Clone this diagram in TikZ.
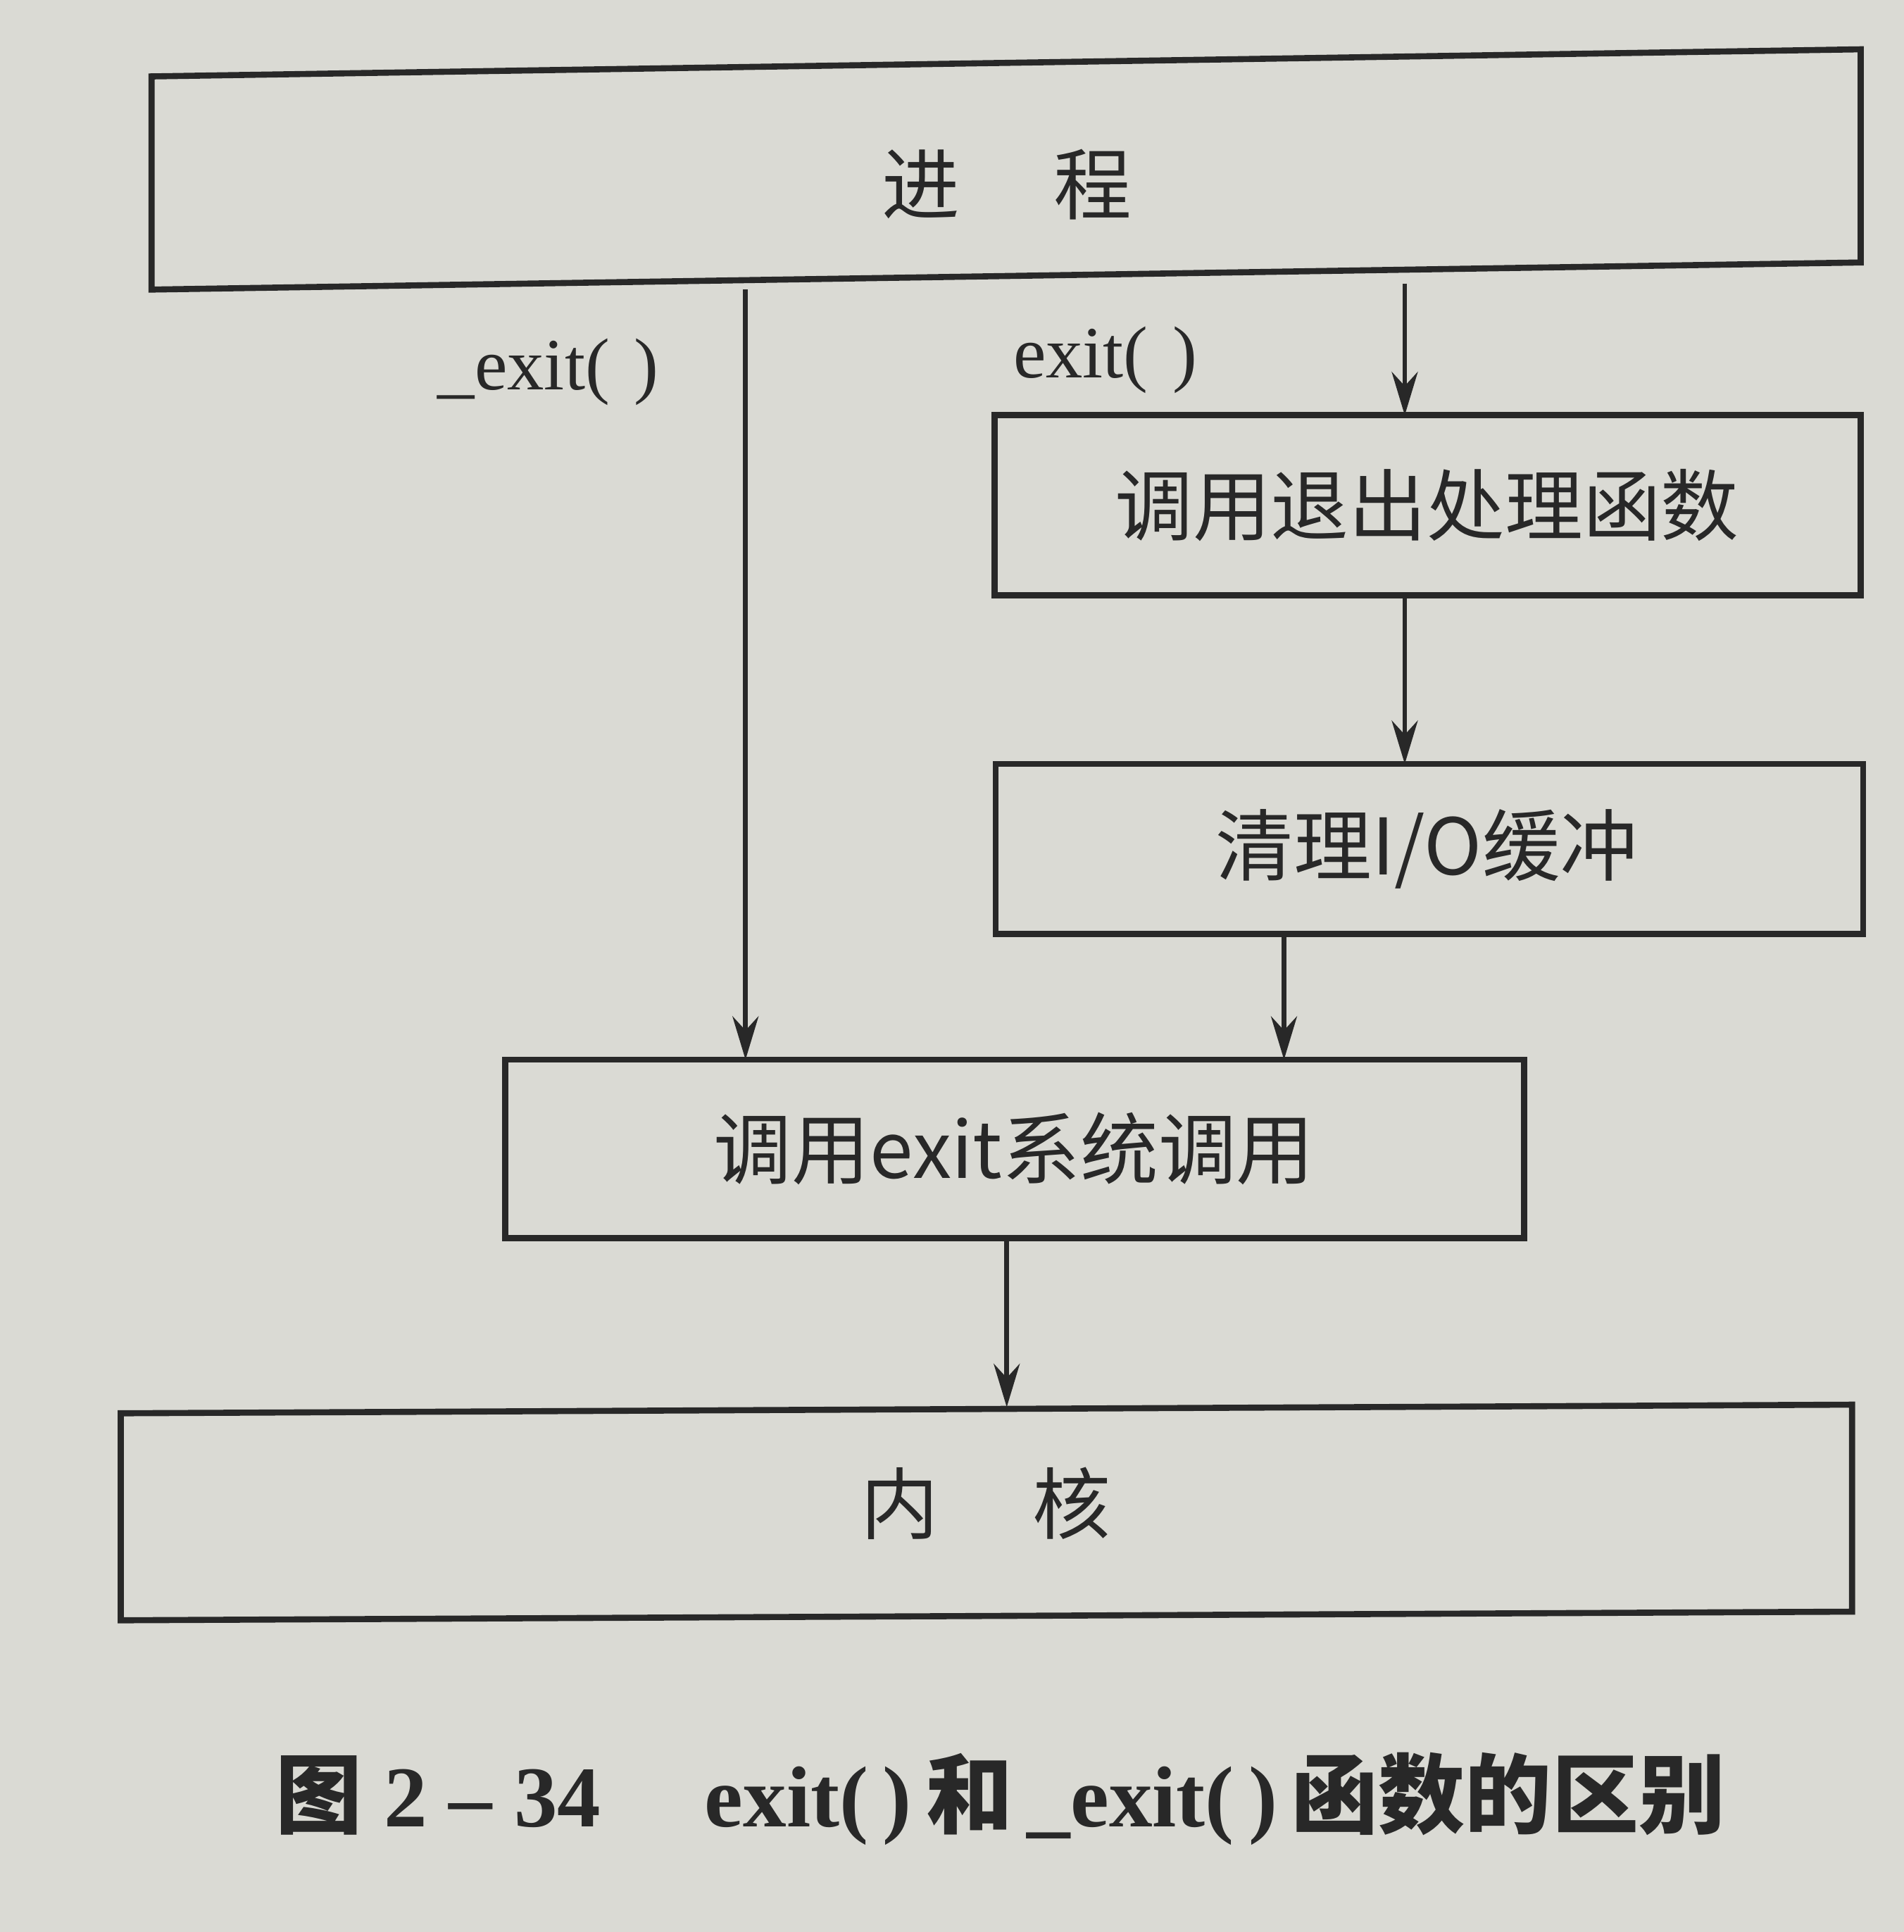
\documentclass[tikz,border=0pt]{standalone}
\usepackage{fontspec}
\setmainfont{Liberation Serif}
\newfontfamily\cjk{Noto Sans CJK SC}
\usetikzlibrary{arrows.meta}
\definecolor{paper}{RGB}{218,218,212}
\definecolor{ink}{RGB}{40,40,40}
\begin{document}
\begin{tikzpicture}[x=0.01cm,y=-0.01cm,
  box/.style={draw=ink,line width=1.4pt},
  arr/.style={draw=ink,line width=1.1pt,-{Stealth[length=10pt,width=6pt]}},
  lbl/.style={font=\cjk\fontsize{18}{21}\selectfont,text=ink},
  lat/.style={font=\fontsize{17}{20}\selectfont,text=ink}]
\fill[paper] (0,0) rectangle (1545,1568);
\useasboundingbox (0,0) rectangle (1545,1568);
\draw[box] (123,62) -- (1510,40) -- (1510,213) -- (123,235) -- cycle;
\node[lbl] (p) at (817,150) {进\hspace{1.2em}程};
\draw[box] (807,337) rectangle (1510,483);
\node[lbl] (b1) at (1158,410) {调用退出处理函数};
\draw[box] (808,620) rectangle (1512,758);
\node[lbl] (b2) at (1158,689) {清理I/O缓冲};
\draw[box] (410,860) rectangle (1237,1005);
\node[lbl] (b3) at (823,932) {调用exit系统调用};
\draw[box] (98,1147) -- (1503,1140) -- (1503,1308) -- (98,1315) -- cycle;
\node[lbl] (k) at (800,1220) {内\hspace{1.2em}核};
\coordinate (a1) at (605,235); \coordinate (a2) at (605,860);
\coordinate (c1) at (1140,230); \coordinate (c2) at (1140,337);
\coordinate (d1) at (1140,483); \coordinate (d2) at (1140,620);
\coordinate (e1) at (1042,758); \coordinate (e2) at (1042,860);
\coordinate (f1) at (817,1005); \coordinate (f2) at (817,1142);
\draw[arr] (a1) -- (a2);
\draw[arr] (c1) -- (c2);
\draw[arr] (d1) -- (d2);
\draw[arr] (e1) -- (e2);
\draw[arr] (f1) -- (f2);
\node[lat] (l1) at (445,302) {\_exit(\,\,)};
\node[lat] (l2) at (897,292) {exit(\,\,)};
\node[font=\fontsize{20}{24}\selectfont\bfseries,text=ink] (cap) at (812,1460)
  {{\cjk 图} 2 -- 34\hspace{1.2em}exit(\,)\,{\cjk 和}\,\_exit(\,)\,{\cjk 函数的区别}};
\end{tikzpicture}
\end{document}
